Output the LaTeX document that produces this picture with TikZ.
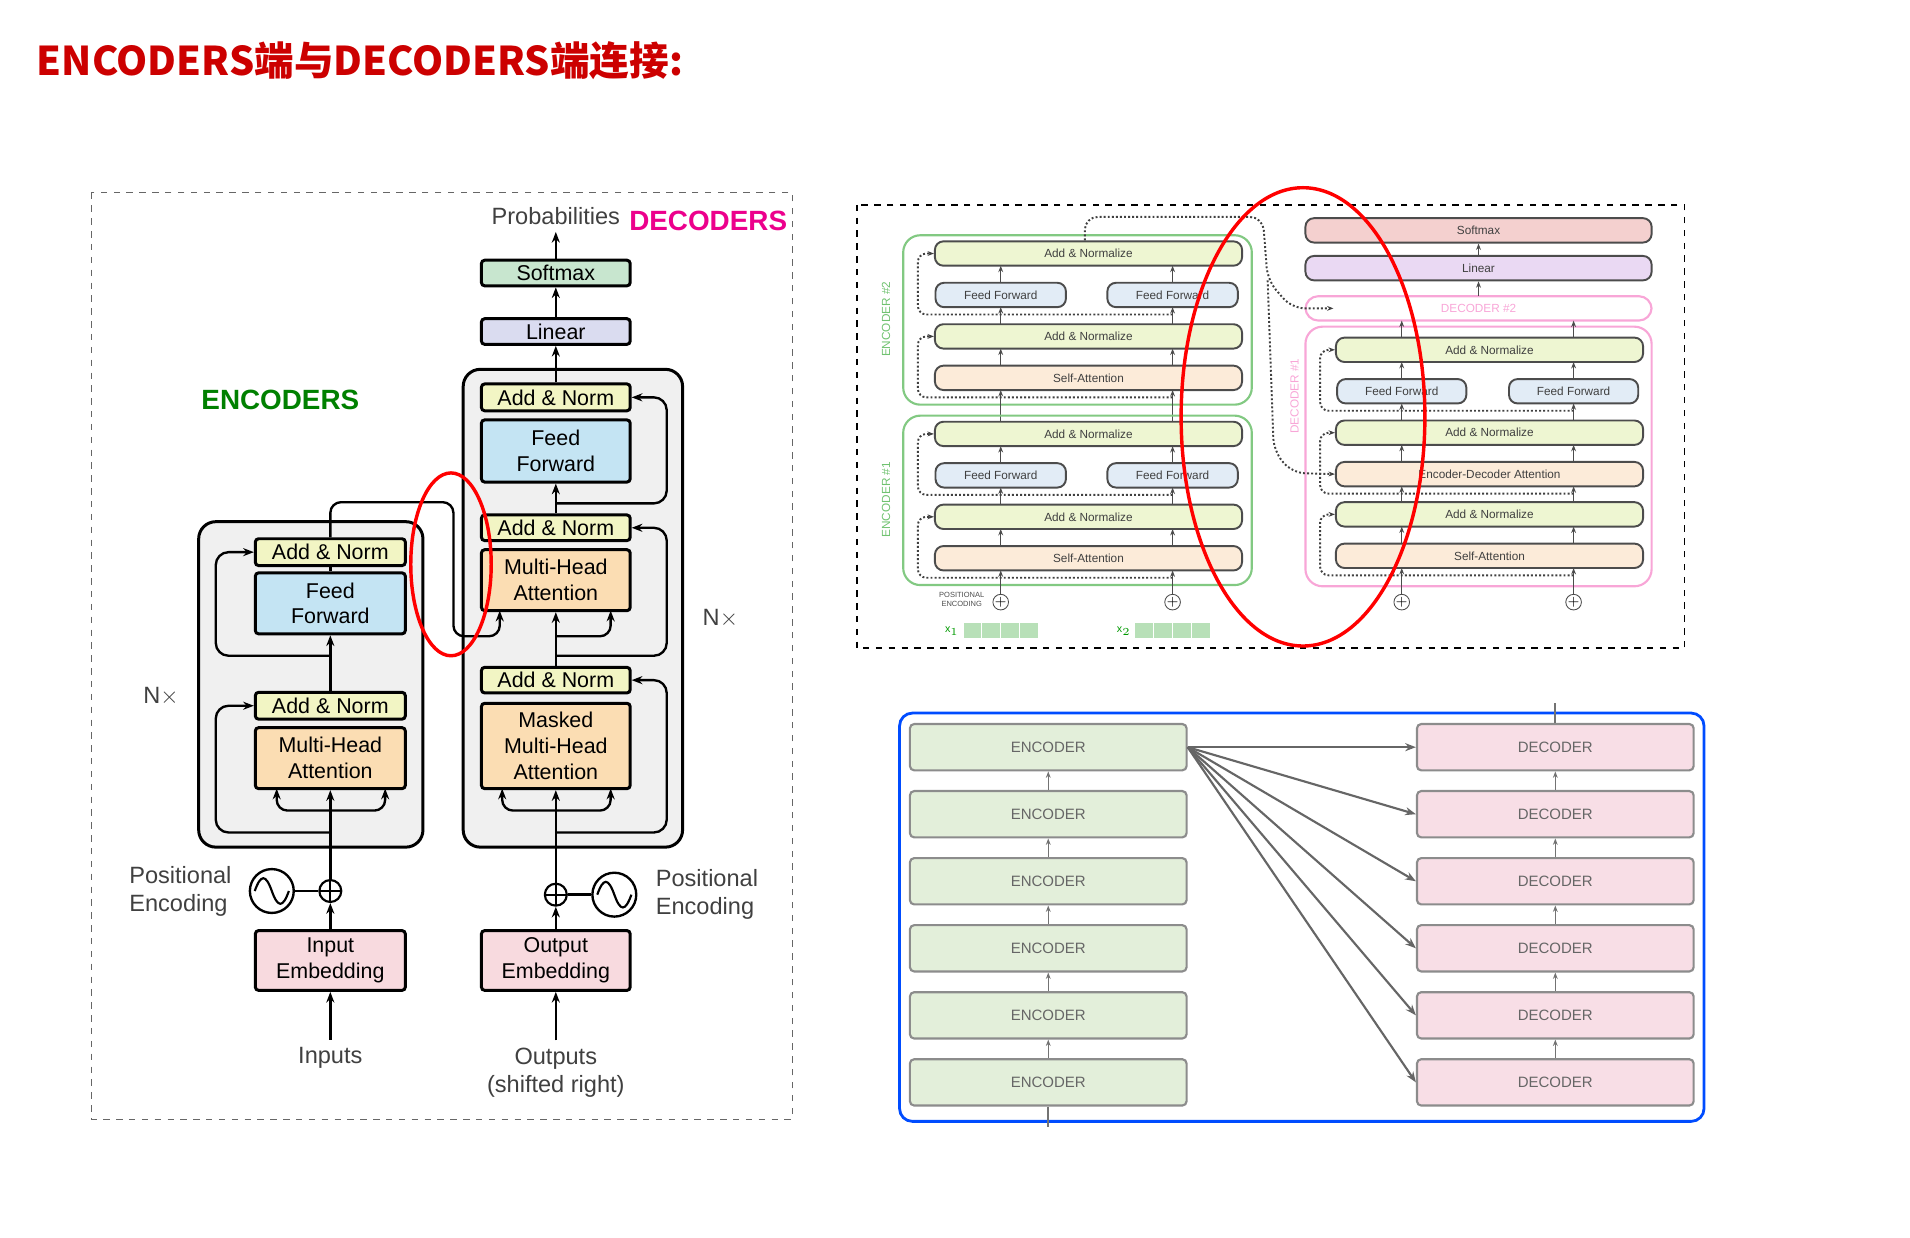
\documentclass[tikz,border=0pt]{standalone}
\usepackage{fontspec}
\setmainfont{Liberation Sans}
\newfontfamily\cjk{Noto Sans CJK SC}
\usetikzlibrary{arrows.meta}
\definecolor{addc}{HTML}{F2F5C4}
\definecolor{ffc}{HTML}{C4E4F3}
\definecolor{attc}{HTML}{FBDDB3}
\definecolor{embc}{HTML}{F8DADF}
\definecolor{linc}{HTML}{DADCF0}
\definecolor{smc}{HTML}{C8E6CF}
\definecolor{gadd}{HTML}{EEF6D2}
\definecolor{gff}{HTML}{E2ECF6}
\definecolor{gsa}{HTML}{FCEBD9}
\definecolor{gsm}{HTML}{F4D0CF}
\definecolor{glin}{HTML}{EAD9F3}
\definecolor{encf}{HTML}{E3EFDA}
\definecolor{decf}{HTML}{F8DEE6}
\begin{document}
\begin{tikzpicture}[x=0.2mm, y=-0.2mm,
  wh/.style 2 args={minimum width=#1*0.2mm, minimum height=#2*0.2mm, inner sep=0pt},
  box/.style={draw, line width=1.4pt, rounded corners=1.5pt, fill=#1, align=center, font=\fontsize{10}{12}\selectfont},
  arr/.style={line width=1.1pt, -{Stealth[length=5pt]}},
  pill/.style={draw=black!70, line width=0.9pt, rounded corners=4pt, fill=#1, font=\fontsize{5.5}{6}\selectfont, text=black!75},
  tarr/.style={black!70, line width=0.7pt, -{Stealth[length=3pt]}},
  dres/.style={black!75, densely dotted, line width=0.9pt, -{Stealth[length=3pt]}},
  stk/.style={draw=black!45, line width=1pt, rounded corners=2pt, fill=#1, font=\fontsize{7}{8}\selectfont, text=black!60},
  ring/.style={draw=red, line width=1.6pt}]
\useasboundingbox (0,0) rectangle (1567,1015);
\node[anchor=west, text=red!80!black, font=\cjk\bfseries\fontsize{18.5}{22}\selectfont] (title) at (24,50) {ENCODERS端与DECODERS端连接:};

% left: transformer figure
\draw[black!60, dashed] (75,158) rectangle (650,918);
\draw[line width=1.4pt, rounded corners=8pt, fill=black!6] (163,428) rectangle (347,695);
\draw[line width=1.4pt, rounded corners=8pt, fill=black!6] (380,303) rectangle (560,695);
\node[box=addc, wh={123}{22}] (ean2) at (271,453) {Add \& Norm};
\node[box=ffc, wh={123}{50}] (eff) at (271,495) {Feed\\Forward};
\node[box=addc, wh={123}{22}] (ean1) at (271,579) {Add \& Norm};
\node[box=attc, wh={123}{50}] (emha) at (271,622) {Multi-Head\\Attention};
\node[box=embc, wh={123}{49}] (iemb) at (271,788) {Input\\Embedding};
\node[draw, circle, line width=1pt, inner sep=0pt, minimum size=18*0.2mm] (eplus) at (271,731) {};
\draw[line width=0.8pt] (262,731) -- (280,731) (271,722) -- (271,740);
\node[draw, circle, line width=1.1pt, minimum size=36*0.2mm] (esin) at (223,731) {};
\draw[line width=1pt] (209,731) .. controls (214,717) and (218,717) .. (223,731) .. controls (228,745) and (232,745) .. (237,731);
\node[font=\fontsize{11}{13}\selectfont, align=left, text=black!75] (epe) at (148,731) {Positional\\Encoding};
\node[font=\fontsize{11}{13}\selectfont, text=black!75] (inp) at (271,868) {Inputs};
\node[font=\fontsize{11}{13}\selectfont, text=black!75] (enx) at (132,571) {N$\times$};
\node[text=green!50!black, font=\bfseries\fontsize{13}{15}\selectfont] (enc) at (230,328) {ENCODERS};

\node[box=smc, wh={122}{21}] (sm) at (456,224) {Softmax};
\node[box=linc, wh={122}{21}] (lin) at (456,272) {Linear};
\node[box=addc, wh={122}{22}] (dan3) at (456,326) {Add \& Norm};
\node[box=ffc, wh={122}{51}] (dff) at (456,370) {Feed\\Forward};
\node[box=addc, wh={122}{21}] (dan2) at (456,433) {Add \& Norm};
\node[box=attc, wh={122}{50}] (dmha) at (456,476) {Multi-Head\\Attention};
\node[box=addc, wh={122}{21}] (dan1) at (456,558) {Add \& Norm};
\node[box=attc, wh={122}{70}] (dmmha) at (456,612) {Masked\\Multi-Head\\Attention};
\node[box=embc, wh={122}{49}] (oemb) at (456,788) {Output\\Embedding};
\node[draw, circle, line width=1pt, inner sep=0pt, minimum size=18*0.2mm] (dplus) at (456,734) {};
\draw[line width=0.8pt] (447,734) -- (465,734) (456,725) -- (456,743);
\node[draw, circle, line width=1.1pt, minimum size=36*0.2mm] (dsin) at (504,734) {};
\draw[line width=1pt] (490,734) .. controls (495,720) and (499,720) .. (504,734) .. controls (509,748) and (513,748) .. (518,734);
\node[font=\fontsize{11}{13}\selectfont, align=left, text=black!75] (dpe) at (580,734) {Positional\\Encoding};
\node[font=\fontsize{11}{13}\selectfont, align=center, text=black!75] (outp) at (456,880) {Outputs\\(shifted right)};
\node[font=\fontsize{11}{13}\selectfont, text=black!75] (prob) at (456,177) {Probabilities};
\node[font=\fontsize{11}{13}\selectfont, text=black!75] (dnx) at (591,507) {N$\times$};
\node[text=magenta, font=\bfseries\fontsize{13}{15}\selectfont] (dec) at (581,181) {DECODERS};

% encoder connectors
\draw[arr] (inp.north) -- (iemb.south);
\draw[arr] (iemb.north) -- (eplus.south);
\draw[line width=1.1pt] (esin.east) -- (eplus.west);
\draw[arr] (eplus.north) -- (emha.south);
\draw[arr, rounded corners=5pt] (271,665) -- (227,665) -- (227,647);
\draw[arr, rounded corners=5pt] (271,665) -- (316,665) -- (316,647);
\draw[arr, rounded corners=6pt] (271,683) -- (177,683) -- (177,579) -- (ean1.west);
\draw[arr] (ean1.north) -- (eff.south);
\draw[arr, rounded corners=6pt] (271,538) -- (177,538) -- (177,453) -- (ean2.west);
\draw[line width=1.1pt] (eff.north) -- (ean2.south);
% decoder connectors
\draw[arr] (outp.north) -- (oemb.south);
\draw[arr] (oemb.north) -- (dplus.south);
\draw[line width=1.1pt] (dsin.west) -- (dplus.east);
\draw[arr] (dplus.north) -- (dmmha.south);
\draw[arr, rounded corners=5pt] (456,665) -- (412,665) -- (412,647);
\draw[arr, rounded corners=5pt] (456,665) -- (501,665) -- (501,647);
\draw[arr, rounded corners=6pt] (456,683) -- (547,683) -- (547,558) -- (dan1.east);
\draw[arr] (dan1.north) -- (dmha.south);
\draw[arr, rounded corners=5pt] (456,522) -- (501,522) -- (501,501);
\draw[arr, rounded corners=6pt] (456,538) -- (547,538) -- (547,433) -- (dan2.east);
\draw[arr, rounded corners=5pt] (ean2.north) -- (271,412) -- (372,412) -- (372,522) -- (410,522) -- (410,501);
\draw[arr] (dan2.north) -- (dff.south);
\draw[arr, rounded corners=6pt] (456,413) -- (547,413) -- (547,326) -- (dan3.east);
\draw[arr] (dan3.north) -- (lin.south);
\draw[arr] (lin.north) -- (sm.south);
\draw[arr] (sm.north) -- (prob.south);
\draw[ring] (370,463) ellipse [x radius=33, y radius=75];

% top right: stacked encoders and decoders
\draw[line width=0.9pt, dashed] (703,168) rectangle (1382,532);
\foreach \i/\o/\b in {2/0/346, 1/148/488} {
  \draw[green!40!gray!70, line width=1pt, rounded corners=8pt] (741,193+\o) rectangle (1027,332+\o);
  \node[rotate=90, text=green!40!gray!80, font=\fontsize{5.5}{6}\selectfont] (elab\i) at (727,262+\o) {ENCODER \#\i};
  \node[pill=gadd, wh={252}{20}] (ea\i) at (893,208+\o) {Add \& Normalize};
  \node[pill=gff, wh={107}{20}] (efa\i) at (821,242+\o) {Feed Forward};
  \node[pill=gff, wh={107}{20}] (efb\i) at (962,242+\o) {Feed Forward};
  \node[pill=gadd, wh={252}{20}] (eb\i) at (893,276+\o) {Add \& Normalize};
  \node[pill=gsa, wh={252}{20}] (es\i) at (893,310+\o) {Self-Attention};
  \foreach \x in {821,962} {
    \draw[tarr] (\x,\b) -- (\x,320+\o);
    \draw[tarr] (\x,300+\o) -- (\x,286+\o);
    \draw[tarr] (\x,266+\o) -- (\x,252+\o);
    \draw[tarr] (\x,232+\o) -- (\x,218+\o);
  }
  \draw[dres, rounded corners=4pt] (962,326+\o) -- (753,326+\o) -- (753,276+\o) -- (eb\i.west);
  \draw[dres, rounded corners=4pt] (962,258+\o) -- (753,258+\o) -- (753,208+\o) -- (ea\i.west);
}
\foreach \x in {821,962} {
  \node[draw=black!70, circle, inner sep=0pt, minimum size=11*0.2mm, font=\fontsize{6}{6}\selectfont] (ep\x) at (\x,494) {$+$};
}
\node[font=\fontsize{3.5}{4}\selectfont, align=center, text=black!70] (posl) at (789,492) {POSITIONAL\\ENCODING};
\node[font=\fontsize{5}{6}\selectfont, text=green!60!black] (x1) at (781,518) {x$_1$};
\node[font=\fontsize{5}{6}\selectfont, text=green!60!black] (x2) at (922,518) {x$_2$};
\foreach \s in {790,931} \foreach \k in {0,1,2,3}
  \draw[fill=green!40!gray!40, draw=white] (\s+\k*15.5,511) rectangle (\s+\k*15.5+15.5,524);

\node[pill=gsm, wh={284}{20}] (dsm) at (1213,189) {Softmax};
\node[pill=glin, wh={284}{20}] (dlin) at (1213,220) {Linear};
\draw[magenta!35, line width=1pt, rounded corners=6pt] (1071,243) rectangle (1355,263);
\node[text=magenta!35, font=\fontsize{5.5}{6}\selectfont] (d2lab) at (1213,253) {DECODER \#2};
\draw[magenta!35, line width=1pt, rounded corners=8pt] (1071,268) rectangle (1355,481);
\node[rotate=90, text=magenta!35, font=\fontsize{5.5}{6}\selectfont] (d1lab) at (1062,325) {DECODER \#1};
\draw[tarr] (dlin.north) -- (dsm.south);
\draw[tarr] (1213,243) -- (dlin.south);
\node[pill=gadd, wh={252}{20}] (da3) at (1222,287) {Add \& Normalize};
\node[pill=gff, wh={106}{20}] (dfa) at (1150,321) {Feed Forward};
\node[pill=gff, wh={106}{20}] (dfb) at (1291,321) {Feed Forward};
\node[pill=gadd, wh={252}{20}] (da2) at (1222,355) {Add \& Normalize};
\node[pill=gsa, wh={252}{20}] (ded) at (1222,389) {Encoder-Decoder Attention};
\node[pill=gadd, wh={252}{20}] (da1) at (1222,422) {Add \& Normalize};
\node[pill=gsa, wh={252}{20}] (dsa) at (1222,456) {Self-Attention};
\foreach \x in {1150,1291} {
  \node[draw=black!70, circle, inner sep=0pt, minimum size=11*0.2mm, font=\fontsize{6}{6}\selectfont] (dp\x) at (\x,494) {$+$};
  \draw[tarr] (\x,488) -- (\x,466);
  \draw[tarr] (\x,446) -- (\x,432);
  \draw[tarr] (\x,412) -- (\x,399);
  \draw[tarr] (\x,379) -- (\x,365);
  \draw[tarr] (\x,345) -- (\x,331);
  \draw[tarr] (\x,311) -- (\x,297);
  \draw[tarr] (\x,277) -- (\x,263);
}
\draw[dres, rounded corners=4pt] (1291,472) -- (1083,472) -- (1083,422) -- (da1.west);
\draw[dres, rounded corners=4pt] (1291,405) -- (1083,405) -- (1083,355) -- (da2.west);
\draw[dres, rounded corners=4pt] (1291,337) -- (1083,337) -- (1083,287) -- (da3.west);
\draw[dres, rounded corners=6pt] (ea2.north -| 890,0) -- (890,178) -- (1036,178) -- (1040,230) -- (1060,253) -- (1094,253);
\draw[dres, rounded corners=6pt] (1040,230) -- (1045,370) -- (1060,388) -- (ded.west);
\draw[ring] (1069,342) ellipse [x radius=100, y radius=188];

% bottom right: six encoders feeding six decoders
\draw[blue!70!cyan, line width=1.3pt, rounded corners=6pt] (738,585) rectangle (1398,920);
\foreach \k in {0,...,5} {
  \node[stk=encf, wh={227}{38}] (st\k) at (860,613+\k*55) {ENCODER};
  \node[stk=decf, wh={227}{38}] (sd\k) at (1276,613+\k*55) {DECODER};
}
\foreach \k [evaluate=\k as \n using int(\k+1)] in {0,...,4} {
  \draw[tarr, black!55] (st\n.north) -- (st\k.south);
  \draw[tarr, black!55] (sd\n.north) -- (sd\k.south);
}
\draw[black!55, line width=0.8pt] (st5.south) -- (860,925);
\draw[black!55, line width=0.8pt] (sd0.north) -- (1276,577);
\foreach \k in {0,...,5}
  \draw[black!60, line width=1pt, -{Stealth[length=5pt]}] (st0.east) -- (sd\k.west);
\end{tikzpicture}
\end{document}
